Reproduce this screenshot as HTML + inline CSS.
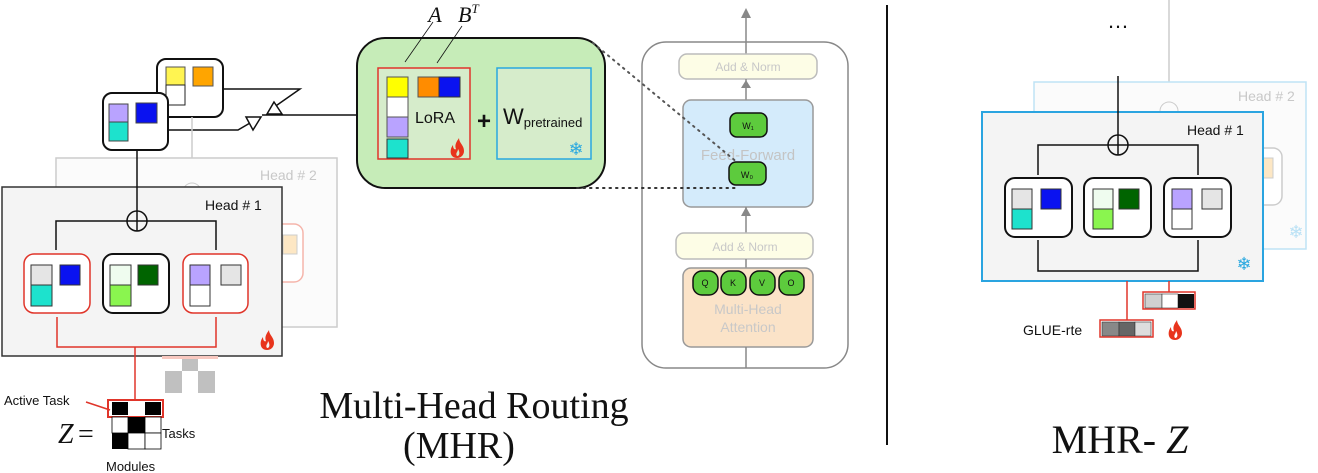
<!DOCTYPE html>
<html><head><meta charset="utf-8"><style>
html,body{margin:0;padding:0;background:#fff;}
svg{display:block;}
.s{font-family:"Liberation Sans",sans-serif;}
.r{font-family:"Liberation Serif",serif;}
</style></head><body>
<svg width="1318" height="473" viewBox="0 0 1318 473" xmlns="http://www.w3.org/2000/svg">
<defs>
<g id="fire"><path d="M0,10 C-7,10 -8,2 -4,-3 C-4,1 -2,2 -1,1 C-3,-4 1,-8 2,-10 C2,-5 7,-3 7,3 C7,7 4,10 0,10 Z M0,8 C3,8 3,4 1,1 C1,4 -2,5 0,8Z" fill="#e8341c"/></g>
</defs>

<rect x="157" y="59" width="66" height="58" rx="9" fill="#fff" stroke="#111" stroke-width="2"/>
<rect x="166" y="67" width="19" height="18" fill="#fff451" stroke="#555"/>
<rect x="166" y="85" width="19" height="20" fill="#fff" stroke="#222"/>
<rect x="193" y="67" width="20" height="19" fill="#ffa500" stroke="#555"/>
<polyline points="223,89 300,89 270,110" fill="none" stroke="#111" stroke-width="1.5"/>
<polyline points="168,130 238,130 250,123" fill="none" stroke="#111" stroke-width="1.5"/>
<polyline points="262,115 380,115" fill="none" stroke="#111" stroke-width="1.5"/>
<polygon points="274,102 267,114 282,114" fill="#fff" stroke="#111" stroke-width="1.5"/>
<polygon points="246,117 261,117 253,130" fill="#fff" stroke="#111" stroke-width="1.5"/>
<line x1="192" y1="117" x2="192" y2="187" stroke="#ccc" stroke-width="1.5"/>
<rect x="56" y="158" width="281" height="169" fill="#fbfbfb" stroke="#ccc" stroke-width="1.5"/>
<text x="260" y="180" class="s" font-size="14" fill="#c8c8c8">Head # 2</text>
<circle cx="192" cy="192" r="9" fill="none" stroke="#ccc"/>
<rect x="270" y="224" width="33" height="58" rx="9" fill="#fff" stroke="#f5b5ab" stroke-width="1.5"/>
<rect x="283" y="235" width="14" height="19" fill="#fde7c4" stroke="#ccc"/>
<rect x="103" y="93" width="65" height="57" rx="9" fill="#fff" stroke="#111" stroke-width="2"/>
<rect x="109" y="104" width="19" height="18" fill="#b9a3ff" stroke="#444"/>
<rect x="109" y="122" width="19" height="19" fill="#1de2cd" stroke="#444"/>
<rect x="136" y="103" width="21" height="20" fill="#0a12f0" stroke="#444"/>
<rect x="2" y="187" width="280" height="169" fill="#f4f4f4" stroke="#333" stroke-width="1.5"/>
<line x1="137" y1="150" x2="137" y2="211" stroke="#111" stroke-width="1.5"/>
<text x="205" y="210" class="s" font-size="14" fill="#111">Head # 1</text>
<polyline points="56,250 56,221 216,221 216,250" fill="none" stroke="#111" stroke-width="1.5"/>
<circle cx="137" cy="221" r="10" fill="#f4f4f4" stroke="#111" stroke-width="1.5"/>
<line x1="127" y1="221" x2="147" y2="221" stroke="#111" stroke-width="1.5"/>
<line x1="137" y1="211" x2="137" y2="231" stroke="#111" stroke-width="1.5"/>
<rect x="24" y="254" width="66" height="59" rx="10" fill="#fff" stroke="#e0352a" stroke-width="1.5"/>
<rect x="31" y="265" width="21" height="20" fill="#e5e5e5" stroke="#333"/>
<rect x="31" y="285" width="21" height="21" fill="#1de2cd" stroke="#333"/>
<rect x="60" y="265" width="20" height="20" fill="#0a12f0" stroke="#333"/>
<rect x="103" y="254" width="66" height="59" rx="10" fill="#fff" stroke="#111" stroke-width="2"/>
<rect x="110" y="265" width="21" height="20" fill="#effcef" stroke="#333"/>
<rect x="110" y="285" width="21" height="21" fill="#8af54f" stroke="#333"/>
<rect x="138" y="265" width="20" height="20" fill="#006400" stroke="#333"/>
<rect x="183" y="254" width="65" height="59" rx="10" fill="#fff" stroke="#e0352a" stroke-width="1.5"/>
<rect x="190" y="265" width="20" height="20" fill="#b9a3ff" stroke="#333"/>
<rect x="190" y="285" width="20" height="21" fill="#fff" stroke="#333"/>
<rect x="221" y="265" width="20" height="20" fill="#e5e5e5" stroke="#333"/>
<polyline points="57,317 57,347 216,347 216,317" fill="none" stroke="#e0352a" stroke-width="1.5"/>
<line x1="135" y1="347" x2="135" y2="399" stroke="#e0352a" stroke-width="1.5"/>
<use href="#fire" transform="translate(267,340)"/>
<rect x="162" y="356" width="56" height="3" fill="#f8c8c0"/>
<rect x="165" y="359" width="17" height="12" fill="#fff"/><rect x="182" y="359" width="16" height="12" fill="#c0c0c0"/><rect x="198" y="359" width="17" height="12" fill="#fff"/>
<rect x="165" y="371" width="17" height="22" fill="#c0c0c0"/><rect x="182" y="371" width="16" height="22" fill="#fff"/><rect x="198" y="371" width="17" height="22" fill="#c0c0c0"/>
<text x="4" y="405" class="s" font-size="13" fill="#111">Active Task</text>
<line x1="86" y1="402" x2="110" y2="410" stroke="#e0352a" stroke-width="1.5"/>
<rect x="112" y="402" width="16" height="13" fill="#000"/><rect x="128" y="402" width="17" height="13" fill="#fff"/><rect x="145" y="402" width="16" height="13" fill="#000"/>
<rect x="108" y="400" width="55" height="17" fill="none" stroke="#e0352a" stroke-width="2"/>
<rect x="112" y="417" width="16" height="16" fill="#fff" stroke="#000" stroke-width="0.8"/><rect x="128" y="417" width="17" height="16" fill="#000"/><rect x="145" y="417" width="16" height="16" fill="#fff" stroke="#000" stroke-width="0.8"/>
<rect x="112" y="433" width="16" height="16" fill="#000"/><rect x="128" y="433" width="17" height="16" fill="#fff" stroke="#000" stroke-width="0.8"/><rect x="145" y="433" width="16" height="16" fill="#fff" stroke="#000" stroke-width="0.8"/>
<text x="58" y="443" class="r" font-size="28" font-style="italic" fill="#111">Z</text>
<text x="78" y="443" class="r" font-size="28" fill="#111">=</text>
<text x="162" y="438" class="s" font-size="13" fill="#111">Tasks</text>
<text x="106" y="471" class="s" font-size="13" fill="#111">Modules</text>

<text x="474" y="418" class="r" font-size="38" text-anchor="middle" fill="#111">Multi-Head Routing</text>
<text x="459" y="458" class="r" font-size="38" text-anchor="middle" fill="#111">(MHR)</text>
<rect x="357" y="38" width="248" height="150" rx="28" fill="#c6ecb8" stroke="#111" stroke-width="2"/>
<rect x="378" y="68" width="92" height="91" fill="#d6eccb" stroke="#e0352a" stroke-width="1.5"/>
<rect x="387" y="77" width="21" height="20" fill="#ffff00" stroke="#555"/>
<rect x="387" y="97" width="21" height="20" fill="#fff" stroke="#555"/>
<rect x="387" y="117" width="21" height="20" fill="#b9a3ff" stroke="#555"/>
<rect x="387" y="139" width="21" height="19" fill="#1de2cd" stroke="#333"/>
<rect x="418" y="77" width="21" height="20" fill="#ff8c00" stroke="#555"/>
<rect x="439" y="77" width="21" height="20" fill="#0a12f0" stroke="#333"/>
<text x="415" y="123" class="s" font-size="16" fill="#111">LoRA</text>
<use href="#fire" transform="translate(457,148)"/>
<text x="484" y="129" class="s" font-size="24" font-weight="bold" text-anchor="middle" fill="#111">+</text>
<rect x="497" y="68" width="94" height="91" fill="#d6eccb" stroke="#29a8e0" stroke-width="1.5"/>
<text x="503" y="124" class="s" font-size="22" fill="#111">W<tspan font-size="13" dy="3">pretrained</tspan></text>
<text x="576" y="155" class="s" font-size="18" text-anchor="middle" fill="#29a8e0">❄</text>
<text x="435" y="22" class="r" font-size="22" font-style="italic" text-anchor="middle" fill="#111">A</text>
<text x="458" y="22" class="r" font-size="22" font-style="italic" fill="#111">B<tspan font-size="13" dy="-9">T</tspan></text>
<line x1="405" y1="62" x2="433" y2="22" stroke="#111" stroke-width="0.8"/>
<line x1="437" y1="63" x2="462" y2="26" stroke="#111" stroke-width="0.8"/>
<rect x="642" y="42" width="206" height="326" rx="24" fill="#fff" stroke="#888" stroke-width="1.5"/>
<line x1="746" y1="14" x2="746" y2="54" stroke="#888" stroke-width="1.5"/><polygon points="741,18 751,18 746,8" fill="#888"/>
<rect x="679" y="54" width="138" height="25" rx="8" fill="#fdfde6" stroke="#bbb" stroke-width="1.5"/>
<text x="748" y="71" class="s" font-size="12" text-anchor="middle" fill="#c8c8c8">Add &amp; Norm</text>
<line x1="746" y1="79" x2="746" y2="100" stroke="#888" stroke-width="1.5"/><polygon points="741,88 751,88 746,80" fill="#888"/>
<rect x="683" y="100" width="130" height="107" rx="8" fill="#d4ebfb" stroke="#999" stroke-width="1.5"/>
<text x="748" y="160" class="s" font-size="15" text-anchor="middle" fill="#c4c4c4">Feed-Forward</text>
<rect x="730" y="113" width="37" height="24" rx="7" fill="#5dcb3d" stroke="#111" stroke-width="1.5"/>
<text x="748" y="129" class="s" font-size="9" text-anchor="middle" fill="#111">W₁</text>
<rect x="729" y="162" width="37" height="23" rx="7" fill="#5dcb3d" stroke="#111" stroke-width="1.5"/>
<text x="747" y="178" class="s" font-size="9" text-anchor="middle" fill="#111">W₀</text>
<line x1="746" y1="207" x2="746" y2="233" stroke="#888" stroke-width="1.5"/><polygon points="741,216 751,216 746,207" fill="#888"/>
<rect x="676" y="233" width="137" height="26" rx="8" fill="#fdfde6" stroke="#bbb" stroke-width="1.5"/>
<text x="745" y="251" class="s" font-size="12" text-anchor="middle" fill="#c8c8c8">Add &amp; Norm</text>
<line x1="746" y1="259" x2="746" y2="268" stroke="#888" stroke-width="1.5"/>
<rect x="683" y="268" width="130" height="79" rx="8" fill="#fbe3c8" stroke="#999" stroke-width="1.5"/>
<g class="s" font-size="9" text-anchor="middle" fill="#111">
<rect x="693" y="271" width="25" height="24" rx="9" fill="#5dcb3d" stroke="#111" stroke-width="1.5"/><text x="705" y="286">Q</text>
<rect x="721" y="271" width="25" height="24" rx="9" fill="#5dcb3d" stroke="#111" stroke-width="1.5"/><text x="733" y="286">K</text>
<rect x="750" y="271" width="25" height="24" rx="9" fill="#5dcb3d" stroke="#111" stroke-width="1.5"/><text x="762" y="286">V</text>
<rect x="779" y="271" width="25" height="24" rx="9" fill="#5dcb3d" stroke="#111" stroke-width="1.5"/><text x="791" y="286">O</text>
</g>
<text x="748" y="314" class="s" font-size="14" text-anchor="middle" fill="#c8c8c8">Multi-Head</text>
<text x="748" y="332" class="s" font-size="14" text-anchor="middle" fill="#c8c8c8">Attention</text>
<line x1="746" y1="347" x2="746" y2="368" stroke="#888" stroke-width="1.5"/>
<line x1="593" y1="43" x2="738" y2="163" stroke="#555" stroke-width="2" stroke-dasharray="1.5,5" stroke-linecap="round"/>
<line x1="577" y1="188" x2="738" y2="188" stroke="#333" stroke-width="2" stroke-dasharray="1.5,5" stroke-linecap="round"/>

<line x1="887" y1="5" x2="887" y2="445" stroke="#111" stroke-width="2"/>

<text x="1118" y="28" class="s" font-size="22" text-anchor="middle" fill="#111">…</text>
<line x1="1169" y1="0" x2="1169" y2="106" stroke="#ccc" stroke-width="1.5"/>
<rect x="1034" y="82" width="272" height="167" fill="#fbfbfb" stroke="#bfe3f5" stroke-width="1.5"/>
<text x="1238" y="101" class="s" font-size="14" fill="#c8c8c8">Head # 2</text>
<circle cx="1169" cy="111" r="9" fill="none" stroke="#ccc"/>
<rect x="1250" y="148" width="32" height="57" rx="9" fill="#fff" stroke="#ccc" stroke-width="1.5"/>
<rect x="1263" y="158" width="10" height="20" fill="#fde7c4" stroke="#ccc"/>
<text x="1296" y="238" class="s" font-size="18" text-anchor="middle" fill="#b9e1f5">❄</text>
<rect x="982" y="112" width="281" height="169" fill="#f4f4f4" stroke="#2aa4e0" stroke-width="2"/>
<line x1="1118" y1="76" x2="1118" y2="135" stroke="#111" stroke-width="1.5"/>
<text x="1187" y="135" class="s" font-size="14" fill="#111">Head # 1</text>
<polyline points="1038,175 1038,145 1198,145 1198,175" fill="none" stroke="#111" stroke-width="1.5"/>
<circle cx="1118" cy="145" r="10" fill="#f4f4f4" stroke="#111" stroke-width="1.5"/>
<line x1="1108" y1="145" x2="1128" y2="145" stroke="#111" stroke-width="1.5"/>
<line x1="1118" y1="135" x2="1118" y2="155" stroke="#111" stroke-width="1.5"/>
<rect x="1005" y="178" width="67" height="59" rx="10" fill="#fff" stroke="#111" stroke-width="2"/>
<rect x="1012" y="189" width="20" height="20" fill="#e5e5e5" stroke="#333"/>
<rect x="1012" y="209" width="20" height="20" fill="#1de2cd" stroke="#333"/>
<rect x="1041" y="189" width="20" height="20" fill="#0a12f0" stroke="#333"/>
<rect x="1084" y="178" width="67" height="59" rx="10" fill="#fff" stroke="#111" stroke-width="2"/>
<rect x="1093" y="189" width="20" height="20" fill="#effcef" stroke="#333"/>
<rect x="1093" y="209" width="20" height="20" fill="#8af54f" stroke="#333"/>
<rect x="1119" y="189" width="20" height="20" fill="#006400" stroke="#333"/>
<rect x="1164" y="178" width="67" height="59" rx="10" fill="#fff" stroke="#111" stroke-width="2"/>
<rect x="1172" y="189" width="20" height="20" fill="#b9a3ff" stroke="#333"/>
<rect x="1172" y="209" width="20" height="20" fill="#fff" stroke="#333"/>
<rect x="1202" y="189" width="20" height="20" fill="#e5e5e5" stroke="#333"/>
<polyline points="1038,240 1038,271 1198,271 1198,240" fill="none" stroke="#111" stroke-width="1.5"/>
<text x="1244" y="270" class="s" font-size="18" text-anchor="middle" fill="#29a8e0">❄</text>
<line x1="1127" y1="281" x2="1127" y2="320" stroke="#e0352a" stroke-width="1.5"/>
<line x1="1169" y1="281" x2="1169" y2="292" stroke="#e0352a" stroke-width="1.5"/>
<rect x="1145" y="294" width="17" height="14" fill="#d0d0d0" stroke="#333" stroke-width="0.6"/><rect x="1162" y="294" width="16" height="14" fill="#fff" stroke="#333" stroke-width="0.6"/><rect x="1178" y="294" width="16" height="14" fill="#111"/>
<rect x="1143" y="292" width="52" height="17" fill="none" stroke="#e0352a" stroke-width="1.5"/>
<rect x="1102" y="322" width="17" height="14" fill="#888" stroke="#333" stroke-width="0.6"/><rect x="1119" y="322" width="16" height="14" fill="#666" stroke="#333" stroke-width="0.6"/><rect x="1135" y="322" width="16" height="14" fill="#ddd" stroke="#333" stroke-width="0.6"/>
<rect x="1100" y="320" width="53" height="17" fill="none" stroke="#e0352a" stroke-width="1.5"/>
<text x="1023" y="335" class="s" font-size="14" fill="#111">GLUE-rte</text>
<use href="#fire" transform="translate(1175,330)"/>
<text x="1120" y="453" class="r" font-size="40" text-anchor="middle" fill="#111">MHR- <tspan font-style="italic">Z</tspan></text>
</svg>
</body></html>
